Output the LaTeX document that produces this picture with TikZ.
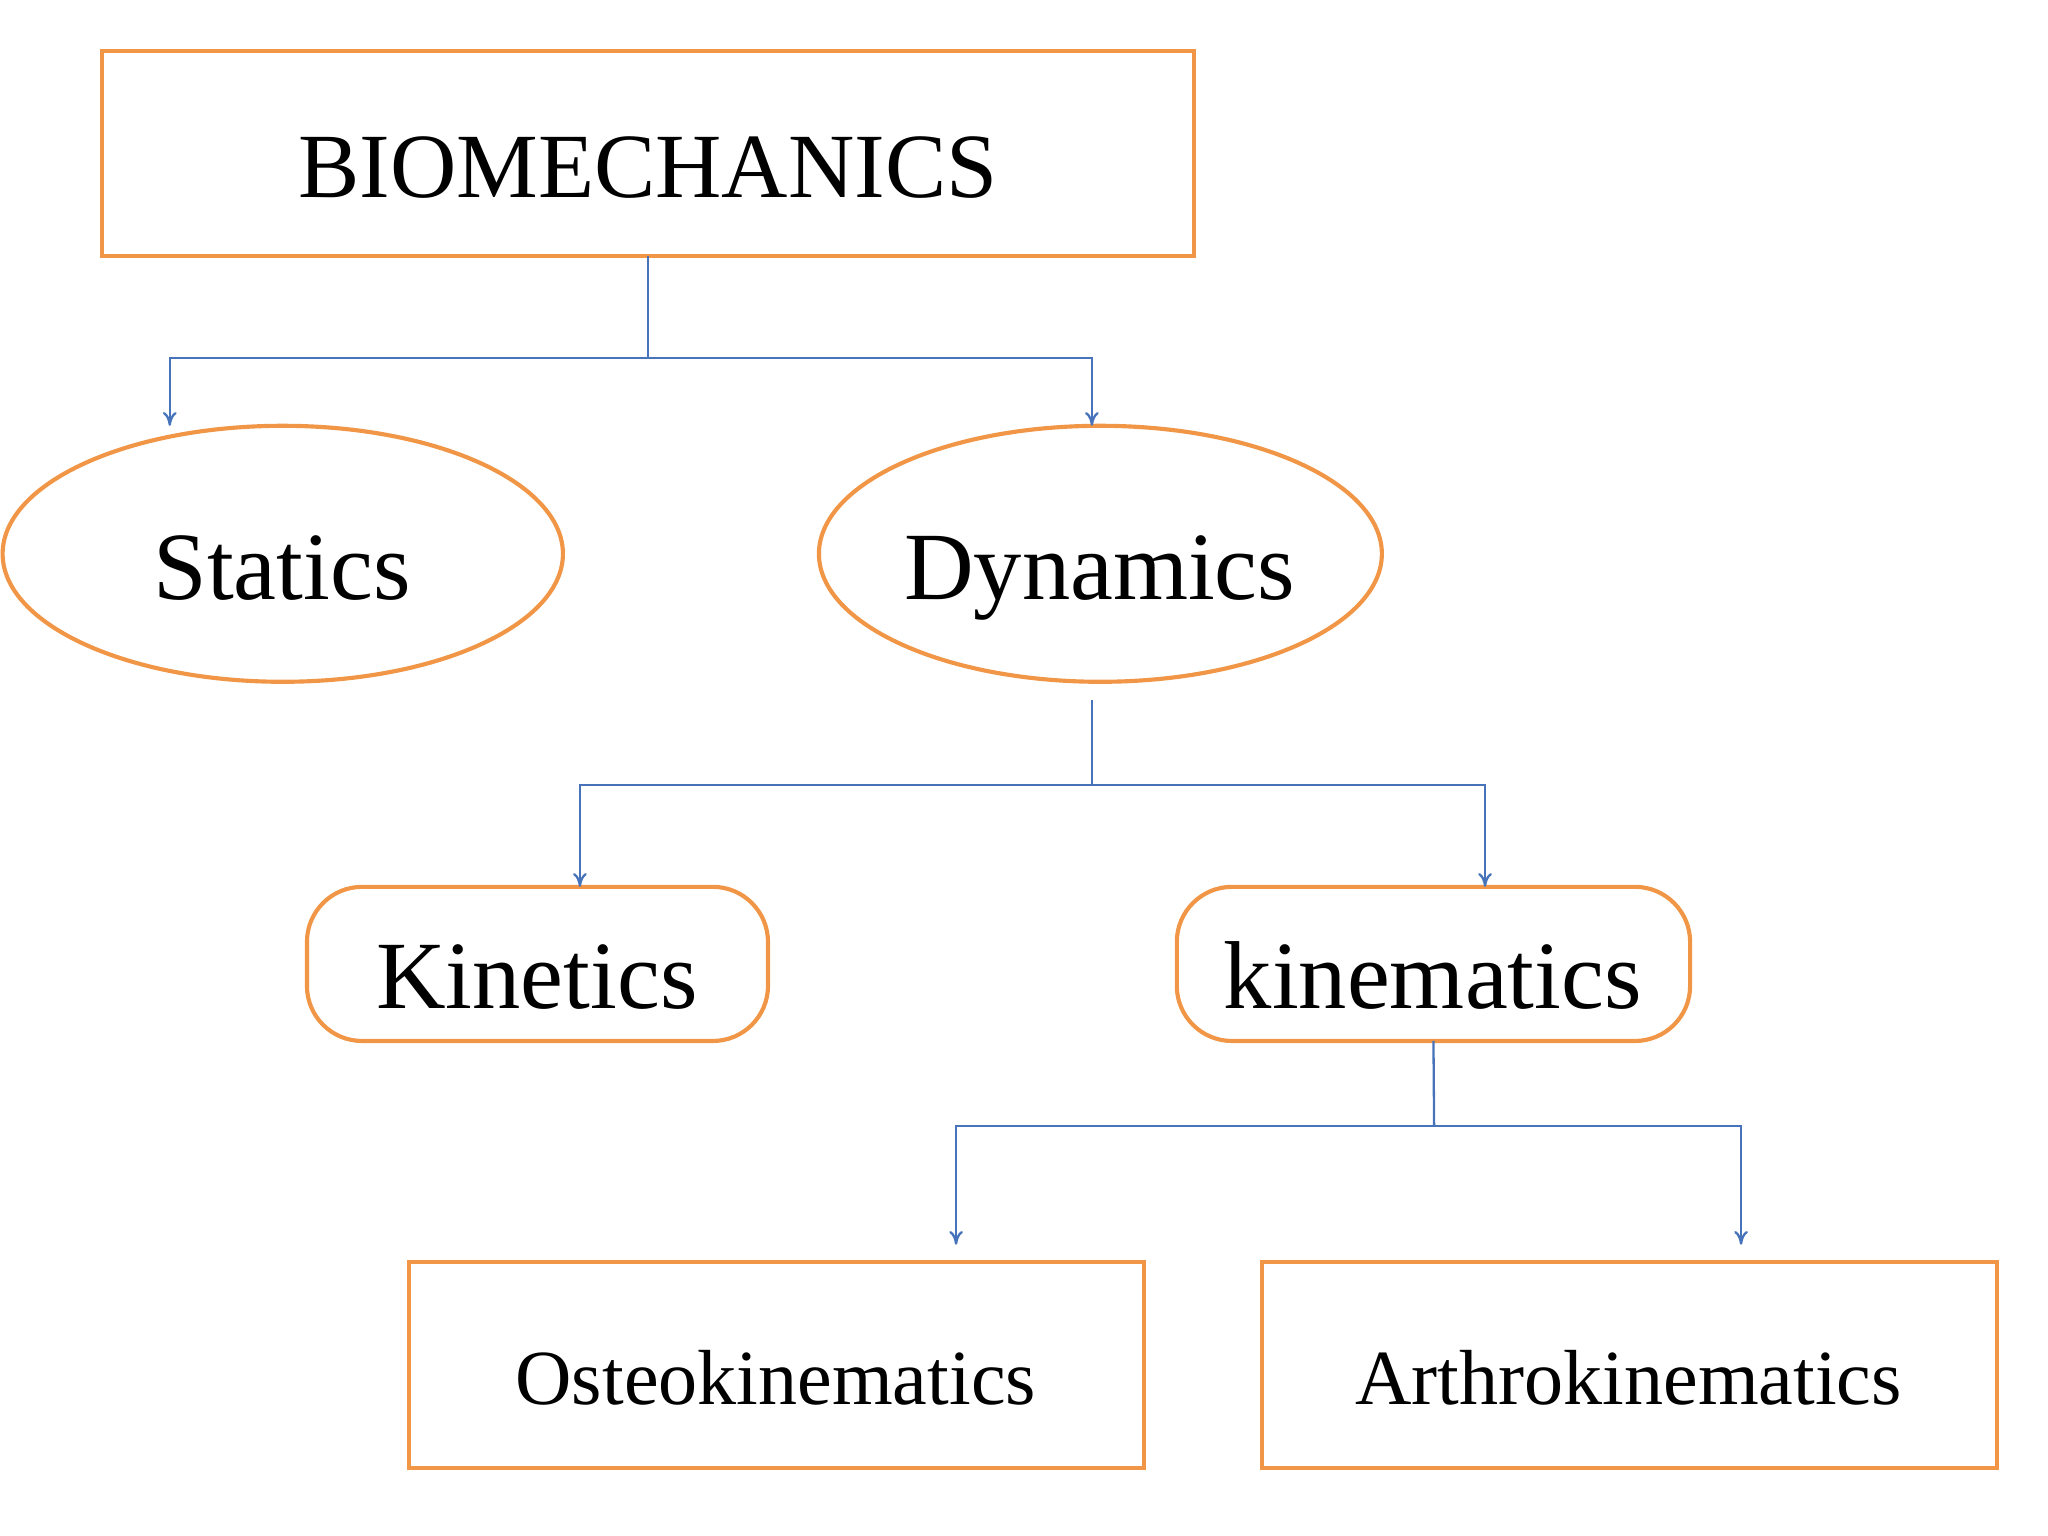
\documentclass[tikz,border=0pt]{standalone}
\usepackage{fontspec}
\setmainfont{Liberation Serif}
\usetikzlibrary{shapes.geometric,arrows.meta}
\begin{document}
\begin{tikzpicture}[x=0.01cm,y=-0.01cm,
  box/.style={draw=orange!80!brown!60!orange,line width=1pt,color={rgb,255:red,240;green,150;blue,70},inner sep=0,outer sep=0},
  conn/.style={draw={rgb,255:red,70;green,115;blue,185},line width=0.5pt},
  arr/.style={conn,-{To[length=3pt,width=3pt]}},
  lbl/.style={text=black,inner sep=0,anchor=base}]
\useasboundingbox (0,0) rectangle (1568,1176);
\definecolor{or}{RGB}{240,150,70}
\tikzset{box/.style={draw=or,line width=0.9pt,inner sep=0,outer sep=0}}
\node[box,rectangle,minimum width=836*0.01cm,minimum height=157*0.01cm] (bio) at (496,117.5) {};
\node[box,ellipse,minimum width=429*0.01cm,minimum height=196*0.01cm] (sta) at (216.5,424) {};
\node[box,ellipse,minimum width=431*0.01cm,minimum height=196*0.01cm] (dyn) at (842.5,424) {};
\node[box,rectangle,rounded corners=12pt,minimum width=353*0.01cm,minimum height=118*0.01cm] (kin) at (411.5,738) {};
\node[box,rectangle,rounded corners=12pt,minimum width=393*0.01cm,minimum height=118*0.01cm] (kinem) at (1097.5,738) {};
\node[box,rectangle,minimum width=563*0.01cm,minimum height=158*0.01cm] (ost) at (594.5,1045) {};
\node[box,rectangle,minimum width=563*0.01cm,minimum height=158*0.01cm] (art) at (1247.5,1045) {};
\node[lbl,font=\fontsize{20}{24}\selectfont] (tbio) at (496,151) {BIOMECHANICS};
\node[lbl,font=\fontsize{21}{25}\selectfont] (tsta) at (216,459) {Statics};
\node[lbl,font=\fontsize{21}{25}\selectfont] (tdyn) at (842,459) {Dynamics};
\node[lbl,font=\fontsize{21}{25}\selectfont] (tkin) at (411,772) {Kinetics};
\node[lbl,font=\fontsize{21}{25}\selectfont] (tkinem) at (1097,772) {kinematics};
\node[lbl,font=\fontsize{17}{20}\selectfont] (tost) at (594,1075) {Osteokinematics};
\node[lbl,font=\fontsize{17}{20}\selectfont] (tart) at (1247,1075) {Arthrokinematics};
% connectors
\coordinate (j1) at (496,274);
\coordinate (a1) at (130,326);
\coordinate (a2) at (836,326);
\draw[conn] (bio.south) -- (j1);
\draw[arr] (j1) -| (a1);
\draw[arr] (j1) -| (a2);
\coordinate (s2) at (836,536);
\coordinate (j2) at (836,601);
\coordinate (b1) at (444,679);
\coordinate (b2) at (1137,679);
\draw[conn] (s2) -- (j2);
\draw[arr] (j2) -| (b1);
\draw[arr] (j2) -| (b2);
\coordinate (j3) at (1098,862);
\coordinate (c1) at (732,953);
\coordinate (c2) at (1333,953);
\draw[conn] (kinem.south) -- (j3);
\draw[arr] (j3) -| (c1);
\draw[arr] (j3) -| (c2);
\end{tikzpicture}
\end{document}
